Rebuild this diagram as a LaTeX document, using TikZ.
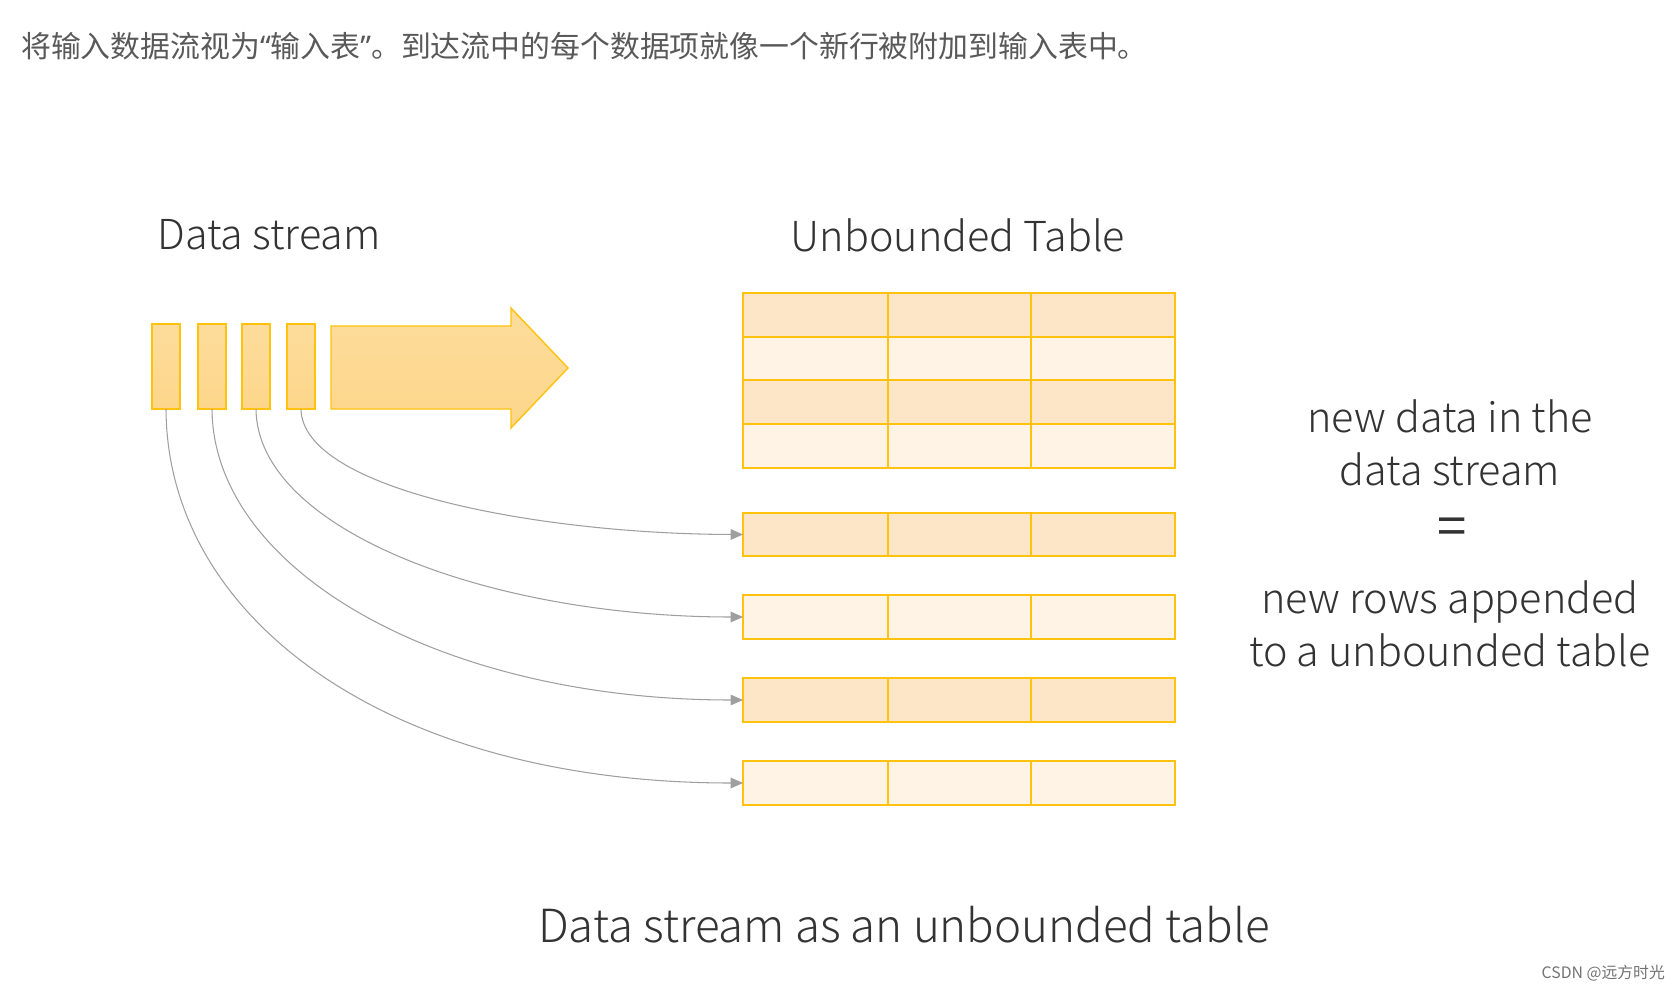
\documentclass[tikz,border=0pt]{standalone}
\usepackage{fontspec}
\setmainfont{Noto Sans CJK SC}
\newfontfamily\lightfont{Noto Sans CJK SC}[UprightFont={* Light}]
\newfontfamily\quotefont{Noto Sans}
\usetikzlibrary{positioning,arrows.meta}
\definecolor{rowdark}{HTML}{FDE5C8}
\definecolor{rowlight}{HTML}{FEF3E4}
\definecolor{edge}{HTML}{FFC20E}
\definecolor{itemfill}{HTML}{FDD68A}
\tikzset{
  item/.style={draw=edge, line width=0.8pt, top color=itemfill!85!white, bottom color=itemfill},
  cell/.style={draw=edge, line width=1.2pt},
  link/.style={draw=gray!75, line width=0.6pt, -{Triangle[length=7pt,width=6pt]}},
  label/.style={font=\lightfont\fontsize{23.5}{30.5}\selectfont, text=black!80},
}
\begin{document}
\begin{tikzpicture}[x=0.02cm,y=-0.02cm]
        % canvas
        \useasboundingbox (0,0) rectangle (1679,986);

        % heading
        \node[anchor=west, text=black!65, font=\fontsize{17}{20}\selectfont] (head) at (15,46)
          {将输入数据流视为{\quotefont“}输入表{\quotefont”}。到达流中的每个数据项就像一个新行被附加到输入表中。};

        % titles
        \node[label] (dstitle) at (269,235) {Data stream};
        \node[label] (tbtitle) at (958,235) {Unbounded Table};

        % stream items
        \foreach \x/\n in {152/1, 198/2, 242/3, 287/4}
          \draw[item] (\x,324) rectangle ++(28,85);
        \foreach \n/\x in {1/166, 2/212, 3/256, 4/301}
          \coordinate (s\n) at (\x,409);

        % big arrow
        \draw[item] (331,326) -- (511,326) -- (511,308) -- (568,368) -- (511,428)
          -- (511,409) -- (331,409) -- cycle;

        % the table
        \foreach \ya/\yb/\c in {293/337/rowdark, 337/380/rowlight, 380/424/rowdark, 424/468/rowlight}
          \draw[cell, fill=\c] (743,\ya) rectangle (888,\yb) rectangle (1031,\ya) rectangle (1175,\yb);

        % new rows
        \foreach \ya/\yb/\c/\n in {513/556/rowdark/1, 595/639/rowlight/2, 678/722/rowdark/3, 761/805/rowlight/4} {
          \draw[cell, fill=\c] (743,\ya) rectangle (888,\yb) rectangle (1031,\ya) rectangle (1175,\yb);
          \coordinate (r\n) at (743,{(\ya+\yb)/2});
        }

        % connectors
        \draw[link] (s4) .. controls (302,490) and (540,534) .. (r1);
        \draw[link] (s3) .. controls (257,530) and (490,617) .. (r2);
        \draw[link] (s2) .. controls (213,570) and (440,700) .. (r3);
        \draw[link] (s1) .. controls (167,620) and (390,783) .. (r4);

        % right text
        \node[label, align=center] (note) at (1450,443) {new data in the\\data stream};
        \node[label, font=\fontsize{30}{34}\selectfont] (eq) at (1452,532) {=};
        \node[label, align=center] (note2) at (1450,624) {new rows appended\\to a unbounded table};

        % caption
        \node[label, font=\lightfont\fontsize{26}{30}\selectfont] (caption) at (904,925) {Data stream as an unbounded table};
        \node[anchor=east, text=black!55, font=\fontsize{9}{11}\selectfont] (mark) at (1671,973) {CSDN @远方时光};
    \end{tikzpicture}
\end{document}
